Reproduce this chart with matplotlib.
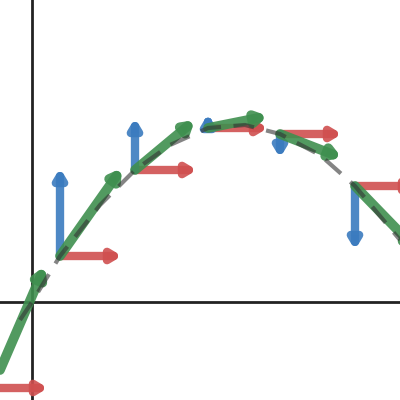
import matplotlib
matplotlib.use("Agg")
import matplotlib.pyplot as plt

# sample points on the trajectory (x, y)
path_x = [-12, 0, 28, 68, 103, 138, 176, 213, 248, 288, 323, 368]
path_y = [-18, 0, 46, 97, 132, 157, 174, 177, 168, 147, 116, 62]

# points where velocity components are drawn
pt_x = [-32, 28, 103, 176, 248, 323]
pt_y = [-86, 46, 132, 174, 168, 116]
vel_x = [48, 62, 62, 60, 62, 62]
vel_y = [0, 88, 52, 14, -24, -64]

# green tangent arrows (start x, start y, dx, dy)
tan_x = [-32, 28, 103, 176, 248, 323]
tan_y = [-68, 46, 132, 174, 168, 116]
tan_dx = [45, 62, 60, 60, 62, 62]
tan_dy = [104, 88, 50, 12, -24, -64]

RED = "#d05050"
BLUE = "#3b7bbf"
GREEN = "#3f8f4f"

fig = plt.figure(figsize=(4, 4), dpi=100)
ax = fig.add_axes([0, 0, 1, 1])
ax.set_xlim(-32, 368)
ax.set_ylim(-98, 302)
ax.axis("off")

ax.axhline(0, color="#222222", lw=2, zorder=1)
ax.axvline(0, color="#222222", lw=2, zorder=1)


def arrow(x, y, dx, dy, color, lw, z):
    ax.annotate("", xy=(x + dx, y + dy), xytext=(x, y), annotation_clip=False,
                arrowprops=dict(arrowstyle="-|>,head_length=0.5,head_width=0.3",
                                color=color, lw=lw, alpha=0.9,
                                shrinkA=0, shrinkB=0),
                zorder=z)


for x, y, vx, vy in zip(pt_x, pt_y, vel_x, vel_y):
    arrow(x, y, vx, 0, RED, 6, 2)
    if abs(vy) > 0:
        arrow(x, y, 0, vy, BLUE, 6, 2)

for x, y, dx, dy in zip(tan_x, tan_y, tan_dx, tan_dy):
    arrow(x, y, dx, dy, GREEN, 7, 3)

ax.plot(path_x, path_y, color="#333333", lw=3, ls=(0, (5, 3)), alpha=0.6, zorder=4)

fig.savefig("out.png", dpi=100)
